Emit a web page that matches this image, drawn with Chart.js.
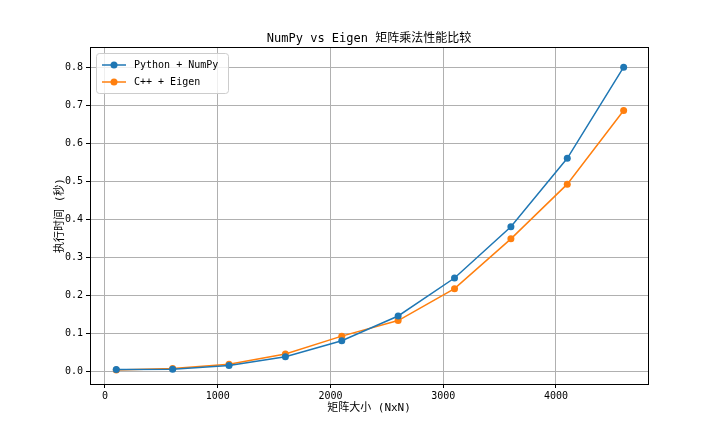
<!DOCTYPE html>
<html><head><meta charset="utf-8">
<script src="https://cdn.jsdelivr.net/npm/chart.js@4/dist/chart.umd.min.js"></script>
<style>body{margin:0;background:#fff}#w{width:720px;height:432px}</style>
</head><body><div id="w"><canvas id="c"></canvas></div>
<script>
const sizes = [100,600,1100,1600,2100,2600,3100,3600,4100,4600];
const numpy = [0.004,0.005,0.015,0.038,0.080,0.145,0.245,0.380,0.560,0.800];
const eigen = [0.003,0.007,0.018,0.045,0.092,0.133,0.217,0.348,0.492,0.686];
const xTicks = [0,1000,2000,3000,4000];
const yTicks = [0,0.1,0.2,0.3,0.4,0.5,0.6,0.7,0.8];
const FONT = "'DejaVu Sans Mono', 'Noto Sans CJK SC', monospace";
const titleText = 'NumPy vs Eigen 矩阵乘法性能比较';
const xTitle = '矩阵大小 (NxN)';
const yTitle = '执行时间 (秒)';
const deco = {
  id:'deco',
  afterDraw(ch){
    const c=ch.ctx,a=ch.chartArea;
    c.save();
    c.strokeStyle='#000';c.lineWidth=1;
    c.strokeRect(a.left+0.5,a.top+0.5,a.right-a.left,a.bottom-a.top);
    c.fillStyle='#000';c.font='12px '+FONT;c.textAlign='center';c.textBaseline='alphabetic';
    c.fillText(titleText,(a.left+a.right)/2,a.top-5);
    c.font='11px '+FONT;c.textBaseline='middle';
    c.fillText(xTitle,(a.left+a.right)/2,408);
    c.save();c.translate(60,(a.top+a.bottom)/2);c.rotate(-Math.PI/2);c.fillText(yTitle,0,0);c.restore();
    const lx=a.left+6,ly=a.top+6,w=132,h=40;
    c.fillStyle='rgba(255,255,255,0.8)';c.strokeStyle='#ccc';
    c.beginPath();c.roundRect(lx+0.5,ly+0.5,w,h,3);c.fill();c.stroke();
    ch.data.datasets.forEach((d,i)=>{
      const y=ly+12+i*17;
      c.strokeStyle=d.borderColor;c.lineWidth=1.5;
      c.beginPath();c.moveTo(lx+6,y);c.lineTo(lx+30,y);c.stroke();
      c.fillStyle=d.borderColor;c.beginPath();c.arc(lx+18,y,3.5,0,Math.PI*2);c.fill();
      c.fillStyle='#000';c.font='10px '+FONT;c.textAlign='left';c.textBaseline='middle';
      c.fillText(d.label,lx+38,y);
    });
    c.restore();
  }
};
new Chart(document.getElementById('c'),{
  type:'line',
  data:{datasets:[
    {label:'Python + NumPy',data:sizes.map((x,i)=>({x,y:numpy[i]})),borderColor:'#1f77b4',backgroundColor:'#1f77b4',borderWidth:1.5,pointRadius:3.5,pointBorderWidth:0,tension:0},
    {label:'C++ + Eigen',data:sizes.map((x,i)=>({x,y:eigen[i]})),borderColor:'#ff7f0e',backgroundColor:'#ff7f0e',borderWidth:1.5,pointRadius:3.5,pointBorderWidth:0,tension:0}
  ]},
  options:{
    responsive:true,maintainAspectRatio:false,animation:false,
    layout:{padding:{top:47,right:72,left:0,bottom:0}},
    plugins:{legend:{display:false},title:{display:false},tooltip:{enabled:false}},
    scales:{
      x:{type:'linear',min:-133,max:4816,
        afterBuildTicks(s){s.ticks=xTicks.map(v=>({value:v}));},
        afterFit(s){s.height=48;},
        grid:{color:'#b0b0b0',drawTicks:true,tickLength:4,tickColor:'#000'},
        border:{display:false},
        ticks:{color:'#000',font:{family:FONT,size:10},padding:2,maxRotation:0,callback:v=>String(v)}
      },
      y:{min:-0.034,max:0.853,
        afterBuildTicks(s){s.ticks=yTicks.map(v=>({value:v}));},
        afterFit(s){s.width=90;},
        grid:{color:'#b0b0b0',drawTicks:true,tickLength:4,tickColor:'#000'},
        border:{display:false},
        ticks:{color:'#000',font:{family:FONT,size:10},padding:3,callback:v=>v.toFixed(1)}
      }
    }
  },
  plugins:[deco]
});
</script></body></html>
